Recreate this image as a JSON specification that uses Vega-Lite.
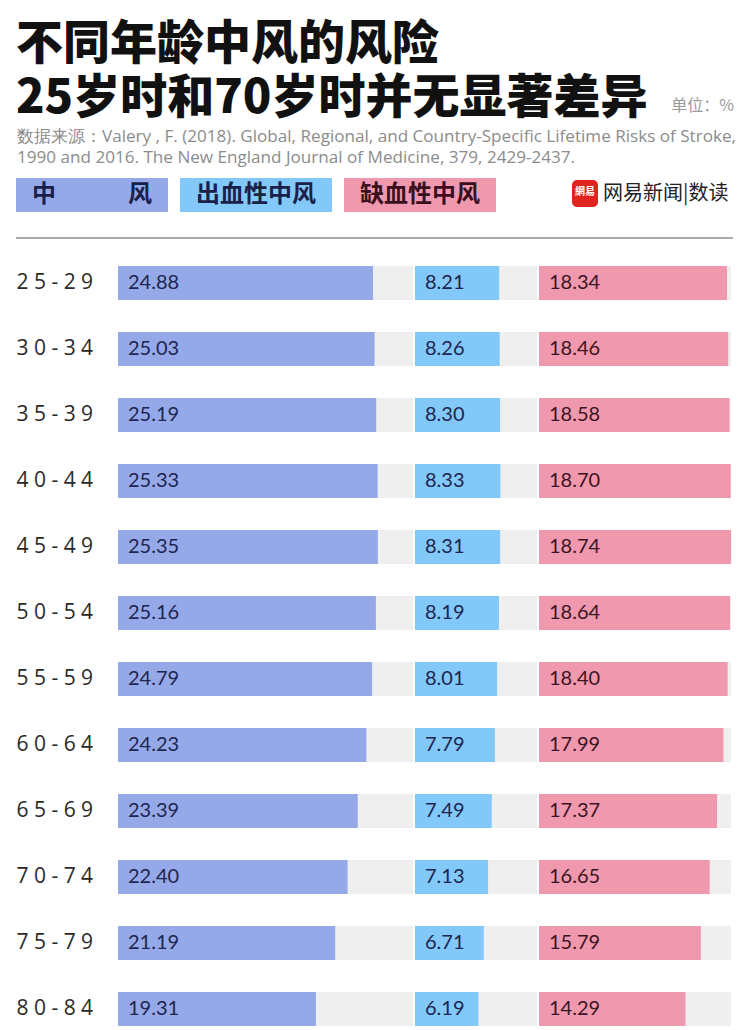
{
  "$schema": "https://vega.github.io/schema/vega-lite/v6.json",
  "width": 750,
  "height": 1030,
  "autosize": {"type": "none"},
  "padding": 0,
  "background": "#ffffff",
  "config": {"view": {"stroke": null}},
  "data": {"values": [
    {"age": "25-29", "total": 24.88, "hemorrhagic": 8.21, "ischemic": 18.34},
    {"age": "30-34", "total": 25.03, "hemorrhagic": 8.26, "ischemic": 18.46},
    {"age": "35-39", "total": 25.19, "hemorrhagic": 8.30, "ischemic": 18.58},
    {"age": "40-44", "total": 25.33, "hemorrhagic": 8.33, "ischemic": 18.70},
    {"age": "45-49", "total": 25.35, "hemorrhagic": 8.31, "ischemic": 18.74},
    {"age": "50-54", "total": 25.16, "hemorrhagic": 8.19, "ischemic": 18.64},
    {"age": "55-59", "total": 24.79, "hemorrhagic": 8.01, "ischemic": 18.40},
    {"age": "60-64", "total": 24.23, "hemorrhagic": 7.79, "ischemic": 17.99},
    {"age": "65-69", "total": 23.39, "hemorrhagic": 7.49, "ischemic": 17.37},
    {"age": "70-74", "total": 22.40, "hemorrhagic": 7.13, "ischemic": 16.65},
    {"age": "75-79", "total": 21.19, "hemorrhagic": 6.71, "ischemic": 15.79},
    {"age": "80-84", "total": 19.31, "hemorrhagic": 6.19, "ischemic": 14.29}
  ]},
  "resolve": {"scale": {"x": "independent"}},
  "layer": [
    {
      "data": {"values": [{}]},
      "layer": [
        {"mark": {"type": "text", "text": "不同年龄中风的风险", "font": "Noto Sans CJK SC", "fontWeight": 900, "fontSize": 47, "align": "left", "baseline": "middle", "color": "#111111"},
         "encoding": {"x": {"value": 16}, "y": {"value": 45}}},
        {"mark": {"type": "text", "text": "25岁时和70岁时并无显著差异", "font": "Noto Sans CJK SC", "fontWeight": 900, "fontSize": 47, "align": "left", "baseline": "middle", "color": "#111111"},
         "encoding": {"x": {"value": 16}, "y": {"value": 99}}},
        {"mark": {"type": "text", "text": "单位：%", "font": "Noto Sans CJK SC", "fontSize": 16, "align": "right", "baseline": "middle", "color": "#9a9a9a"},
         "encoding": {"x": {"value": 734}, "y": {"value": 106}}},
        {"mark": {"type": "text", "text": "数据来源：Valery , F. (2018). Global, Regional, and Country-Specific Lifetime Risks of Stroke,", "font": "Open Sans", "fontSize": 17.1, "align": "left", "baseline": "middle", "color": "#8c8c8c"},
         "encoding": {"x": {"value": 17}, "y": {"value": 137}}},
        {"mark": {"type": "text", "text": "1990 and 2016. The New England Journal of Medicine, 379, 2429-2437.", "font": "Open Sans", "fontSize": 17.1, "align": "left", "baseline": "middle", "color": "#8c8c8c"},
         "encoding": {"x": {"value": 17}, "y": {"value": 158}}},
        {"mark": {"type": "rect", "fill": "#e0241f", "cornerRadius": 5},
         "encoding": {"x": {"value": 572}, "x2": {"value": 598}, "y": {"value": 180}, "y2": {"value": 207}}},
        {"mark": {"type": "text", "text": "網易", "font": "Noto Sans CJK TC", "fontWeight": "bold", "fontSize": 10, "align": "center", "baseline": "middle", "color": "#ffffff"},
         "encoding": {"x": {"value": 585}, "y": {"value": 192}}},
        {"mark": {"type": "text", "text": "网易新闻|数读", "font": "Noto Sans CJK SC", "fontSize": 20, "align": "left", "baseline": "middle", "color": "#222222"},
         "encoding": {"x": {"value": 603}, "y": {"value": 194}}},
        {"mark": {"type": "rule", "color": "#aaaaaa", "strokeWidth": 2},
         "encoding": {"x": {"value": 16}, "x2": {"value": 733}, "y": {"value": 238}}}
      ]
    },
    {
      "data": {"values": [
        {"type": "中风", "label": "中　　　风"},
        {"type": "出血性中风", "label": "出血性中风"},
        {"type": "缺血性中风", "label": "缺血性中风"}
      ]},
      "encoding": {
        "x": {"field": "type", "type": "nominal", "sort": null, "axis": null,
              "scale": {"domain": ["中风", "出血性中风", "缺血性中风"], "range": [16, 496], "paddingInner": 0.0732, "paddingOuter": 0}}
      },
      "layer": [
        {"mark": {"type": "bar"},
         "encoding": {
           "y": {"value": 178}, "y2": {"value": 212},
           "color": {"field": "type", "type": "nominal", "legend": null,
                     "scale": {"domain": ["中风", "出血性中风", "缺血性中风"], "range": ["#95a9e9", "#82c8f8", "#f099ae"]}}
         }},
        {"mark": {"type": "text", "font": "Noto Sans CJK SC", "fontWeight": "bold", "fontSize": 24, "baseline": "middle", "align": "center"},
         "encoding": {
           "y": {"value": 195},
           "text": {"field": "label"},
           "color": {"condition": {"test": "datum.type === '缺血性中风'", "value": "#3a0f1e"}, "value": "#1b2048"}
         }}
      ]
    },
    {
      "encoding": {
        "y": {"field": "age", "type": "nominal", "sort": null, "title": null,
              "scale": {"range": [250, 1042], "paddingInner": 0.4848, "paddingOuter": 0.2424},
              "axis": {"domain": false, "ticks": false, "tickSize": 0, "labelPadding": -16, "labelAlign": "left", "labelBaseline": "middle",
                       "labelFont": "Open Sans", "labelFontSize": 21, "labelColor": "#2a2a2a",
                       "labelExpr": "join(split(datum.label, ''), ' ')"}}
      },
      "layer": [
        {"mark": {"type": "bar", "color": "#efefef"},
         "encoding": {"x": {"datum": 0, "type": "quantitative", "axis": null, "scale": {"domain": [0, 28.78], "range": [118, 413], "nice": false, "zero": true}}, "x2": {"datum": 28.78}}},
        {"mark": {"type": "bar", "color": "#95a9e9"},
         "encoding": {"x": {"field": "total", "type": "quantitative", "axis": null, "scale": {"domain": [0, 28.78], "range": [118, 413], "nice": false, "zero": true}}}},
        {"mark": {"type": "text", "font": "Lato", "fontSize": 20, "align": "left", "baseline": "middle", "dx": 10, "color": "#1d2550"},
         "encoding": {"x": {"datum": 0, "type": "quantitative"}, "text": {"field": "total", "type": "quantitative", "format": ".2f"}}}
      ]
    },
    {
      "encoding": {
        "y": {"field": "age", "type": "nominal", "sort": null, "title": null,
              "scale": {"range": [250, 1042], "paddingInner": 0.4848, "paddingOuter": 0.2424},
              "axis": {"domain": false, "ticks": false, "tickSize": 0, "labelPadding": -16, "labelAlign": "left", "labelBaseline": "middle",
                       "labelFont": "Open Sans", "labelFontSize": 21, "labelColor": "#2a2a2a",
                       "labelExpr": "join(split(datum.label, ''), ' ')"}}
      },
      "layer": [
        {"mark": {"type": "bar", "color": "#efefef"},
         "encoding": {"x": {"datum": 0, "type": "quantitative", "axis": null, "scale": {"domain": [0, 11.9], "range": [415, 537], "nice": false, "zero": true}}, "x2": {"datum": 11.9}}},
        {"mark": {"type": "bar", "color": "#82c8f8"},
         "encoding": {"x": {"field": "hemorrhagic", "type": "quantitative", "axis": null, "scale": {"domain": [0, 11.9], "range": [415, 537], "nice": false, "zero": true}}}},
        {"mark": {"type": "text", "font": "Lato", "fontSize": 20, "align": "left", "baseline": "middle", "dx": 10, "color": "#1d2550"},
         "encoding": {"x": {"datum": 0, "type": "quantitative"}, "text": {"field": "hemorrhagic", "type": "quantitative", "format": ".2f"}}}
      ]
    },
    {
      "encoding": {
        "y": {"field": "age", "type": "nominal", "sort": null, "title": null,
              "scale": {"range": [250, 1042], "paddingInner": 0.4848, "paddingOuter": 0.2424},
              "axis": {"domain": false, "ticks": false, "tickSize": 0, "labelPadding": -16, "labelAlign": "left", "labelBaseline": "middle",
                       "labelFont": "Open Sans", "labelFontSize": 21, "labelColor": "#2a2a2a",
                       "labelExpr": "join(split(datum.label, ''), ' ')"}}
      },
      "layer": [
        {"mark": {"type": "bar", "color": "#efefef"},
         "encoding": {"x": {"datum": 0, "type": "quantitative", "axis": null, "scale": {"domain": [0, 18.73], "range": [539, 731], "nice": false, "zero": true}}, "x2": {"datum": 18.73}}},
        {"mark": {"type": "bar", "color": "#f099ae"},
         "encoding": {"x": {"field": "ischemic", "type": "quantitative", "axis": null, "scale": {"domain": [0, 18.73], "range": [539, 731], "nice": false, "zero": true}}}},
        {"mark": {"type": "text", "font": "Lato", "fontSize": 20, "align": "left", "baseline": "middle", "dx": 10, "color": "#3a1424"},
         "encoding": {"x": {"datum": 0, "type": "quantitative"}, "text": {"field": "ischemic", "type": "quantitative", "format": ".2f"}}}
      ]
    }
  ]
}
